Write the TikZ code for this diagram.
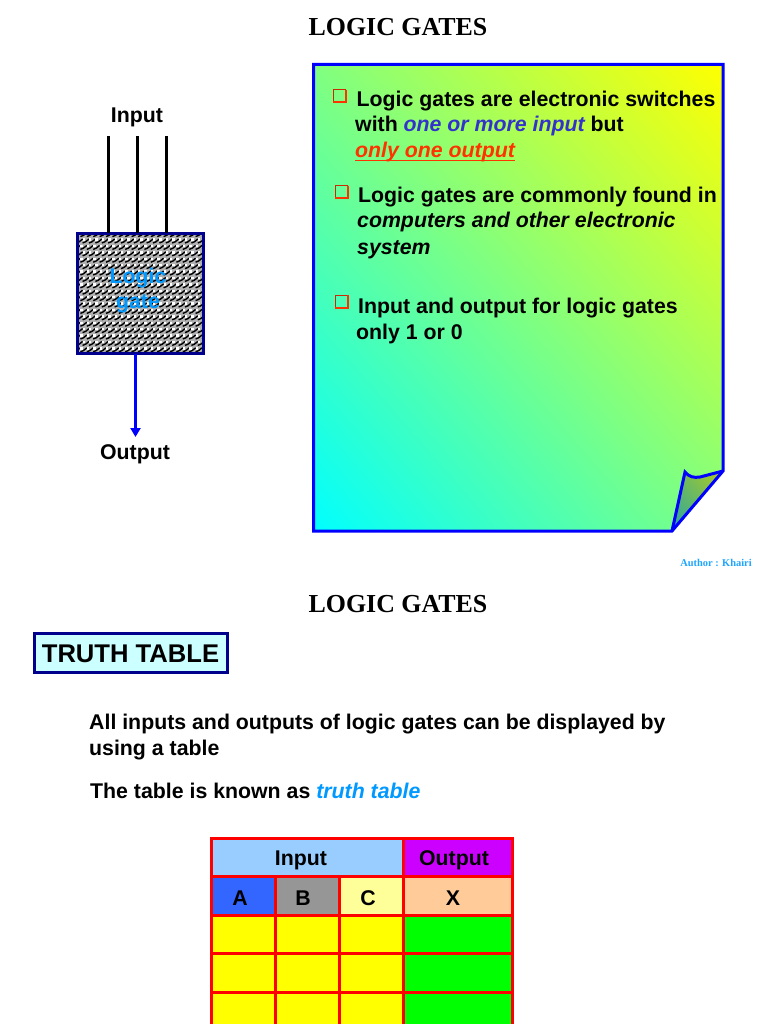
\documentclass[tikz,border=0pt]{standalone}
\usepackage{fontspec}
\setmainfont{Liberation Sans}
\newfontfamily\serifface{Liberation Serif}
\usetikzlibrary{arrows.meta,shadings}
\definecolor{navyb}{RGB}{0,0,140}
\definecolor{pureb}{RGB}{0,0,255}
\definecolor{skyt}{RGB}{0,153,255}
\definecolor{authc}{RGB}{30,165,255}
\definecolor{midg}{RGB}{128,255,128}
\definecolor{pcyan}{RGB}{0,255,255}
\definecolor{pyellow}{RGB}{255,255,0}
\definecolor{pgreen}{RGB}{0,255,0}
\definecolor{pred}{RGB}{255,0,0}
\definecolor{foldll}{RGB}{40,165,165}
\definecolor{foldur}{RGB}{175,205,30}
\definecolor{foldmid}{RGB}{105,185,100}
\definecolor{inblue}{RGB}{51,51,204}
\definecolor{outred}{RGB}{255,51,0}
\definecolor{hdrin}{RGB}{153,204,255}
\definecolor{hdrout}{RGB}{204,0,255}
\definecolor{cola}{RGB}{51,102,255}
\definecolor{colb}{RGB}{150,150,150}
\definecolor{colc}{RGB}{255,255,153}
\definecolor{colx}{RGB}{255,204,153}
\definecolor{ttbox}{RGB}{204,255,255}
\tikzset{
  x=1pt,y=-1pt,
  title/.style={font=\serifface\bfseries\fontsize{25.9}{26}\selectfont,anchor=base},
  body/.style={font=\bfseries\fontsize{21.3}{24}\selectfont,anchor=base west,inner sep=0pt,text=black},
  lab/.style={font=\bfseries\fontsize{21.3}{24}\selectfont,inner sep=0pt,anchor=base},
  bullet/.style={draw=outred!80!black,line width=0.8pt,minimum width=12.5pt,minimum height=12.5pt,inner sep=0pt,outer sep=0pt,anchor=center},
  bulletshadow/.style={draw=outred,line width=1.8pt,line cap=square},
  cell/.style={draw=pred,line width=3pt,inner sep=0pt,outer sep=0pt,anchor=north west},
  wire/.style={line width=3pt,black},
}
\newcommand{\cellnode}[6]{%
  \node[cell,fill=#2,minimum width=#5 pt,minimum height=#6 pt] (#1) at (#3,#4) {};}
\begin{document}
\begin{tikzpicture}
\clip (0,0) rectangle (768,1024);
\fill[white] (0,0) rectangle (768,1024);
% titles
\node[title] (t1) at (398,36) {LOGIC GATES};
\node[title] (t2) at (398,612) {LOGIC GATES};
% gate box
\node[draw=navyb,line width=3pt,minimum width=126pt,minimum height=120pt,inner sep=0pt,outer sep=0pt,fill=black!30] (gate) at (140.5,293.5) {};
\begin{scope}
\clip (gate.south west) rectangle (gate.north east);
\foreach \r in {0,...,19}{
  \foreach \c in {0,...,20}{
    \pgfmathsetmacro{\xx}{74+\c*6.4+mod(\r,2)*2.2}
    \pgfmathsetmacro{\yy}{232+\r*6.4}
    \fill[white] (\xx,\yy) rectangle +(2.4,2.4);
    \draw[black,line width=1.4pt] (\xx,\yy+4.6) -- (\xx+3,\yy+3.4) -- (\xx+6.4,\yy+0.6);
  }
}
\end{scope}
\draw[navyb,line width=3pt] (gate.south west) rectangle (gate.north east);
\node[lab,text=skyt] (lg1) at (138,283) {Logic};
\node[lab,text=skyt] (lg2) at (138,308) {gate};
% input / output
\node[lab] (inp) at (137,122.5) {Input};
\node[lab] (outp) at (135,459) {Output};
\coordinate (i1) at (108.5,136);
\coordinate (i2) at (137,136);
\coordinate (i3) at (166,136);
\coordinate (o1) at (135.5,437);
\draw[wire] (i1) -- (i1 |- gate.north);
\draw[wire] (i2) -- (i2 |- gate.north);
\draw[wire] (i3) -- (i3 |- gate.north);
\draw[line width=3pt,pureb,-{Triangle[length=9pt,width=10pt]}] (o1 |- gate.south) -- (o1);
% note
\begin{scope}
\clip (313.5,64.5) -- (723,64.5) -- (723,471) -- (672,531) -- (313.5,531) -- cycle;
\shade[lower left=pcyan,upper right=pyellow,upper left=midg,lower right=midg] (313.5,531) rectangle (723,64.5);
\end{scope}
\begin{scope}
\clip (672,531) -- (685,472) .. controls (689,477) and (694,478) .. (700,477) -- (723,471) -- cycle;
\shade[lower left=foldll,upper right=foldur,upper left=foldmid,lower right=foldmid] (672,531) rectangle (723,471);
\end{scope}
\draw[pureb,line width=3pt,line join=miter] (313.5,64.5) -- (723,64.5) -- (723,471) -- (672,531) -- (313.5,531) -- cycle;
\draw[pureb,line width=3pt,line join=miter] (672,531) -- (685,472) .. controls (689,477) and (694,478) .. (700,477) -- (723,471);
% bullets
\foreach \nm/\xx/\yy in {b1/339.5/96,b2/341.5/192,b3/341.5/301.5}{
  \node[bullet] (\nm) at (\xx,\yy) {};
  \draw[bulletshadow] (\nm.north east) -- (\nm.south east) -- (\nm.south west);
}
% bullet text
\node[body] (l1) at (356.5,107) {Logic gates are electronic switches};
\node[body] (l2) at (355,132) {with \textit{\textcolor{inblue}{one or more input}} but};
\node[body] (l3) at (355,157.5) {\textit{\textcolor{outred}{only one output}}};
\draw[outred,line width=1.5pt] (l3.base west)++(0,3) -- ++(160,0);
\node[body] (l4) at (358,203) {Logic gates are commonly found in};
\node[body] (l5) at (357,228) {\textit{computers and other electronic}};
\node[body] (l6) at (357,254) {\textit{system}};
\node[body] (l7) at (358,313) {Input and output for logic gates};
\node[body] (l8) at (356,339) {only 1 or 0};
% author
\node[font=\serifface\bfseries\fontsize{10.4}{12}\selectfont,text=authc,anchor=base,inner sep=0pt] (au) at (716,566) {Author : Khairi};
% truth table box
\node[draw=navyb,line width=3pt,fill=ttbox,minimum width=193pt,minimum height=39pt,inner sep=0pt,outer sep=0pt,text height=20pt,text depth=0pt,font=\bfseries\fontsize{25.6}{26}\selectfont] (tt) at (130.5,652.5) {TRUTH TABLE};
\node[body] (p1) at (89,729) {All inputs and outputs of logic gates can be displayed by};
\node[body] (p2) at (89,755) {using a table};
\node[body] (p3) at (90,798) {The table is known as \textit{\textcolor{skyt}{truth table}}};
% table
\cellnode{hin}{hdrin}{211.5}{838}{191.5}{38.5}
\cellnode{hout}{hdrout}{403}{838}{109}{38.5}
\cellnode{ca}{cola}{211.5}{876.5}{64}{38.5}
\cellnode{cb}{colb}{275.5}{876.5}{63.5}{38.5}
\cellnode{cc}{colc}{339}{876.5}{64}{38.5}
\cellnode{cx}{colx}{403}{876.5}{109}{38.5}
\foreach \nm/\yy in {p/915,q/953.5,r/992}{
  \cellnode{\nm a}{pyellow}{211.5}{\yy}{64}{38.5}
  \cellnode{\nm b}{pyellow}{275.5}{\yy}{63.5}{38.5}
  \cellnode{\nm c}{pyellow}{339}{\yy}{64}{38.5}
  \cellnode{\nm x}{pgreen}{403}{\yy}{109}{38.5}
}
\node[lab] (tin) at (301,865) {Input};
\node[lab] (tout) at (454,865) {Output};
\node[lab] (ta) at (240,905) {A};
\node[lab] (tb) at (303,905) {B};
\node[lab] (tc) at (368,905) {C};
\node[lab] (tx) at (453,905) {X};
\end{tikzpicture}
\end{document}
